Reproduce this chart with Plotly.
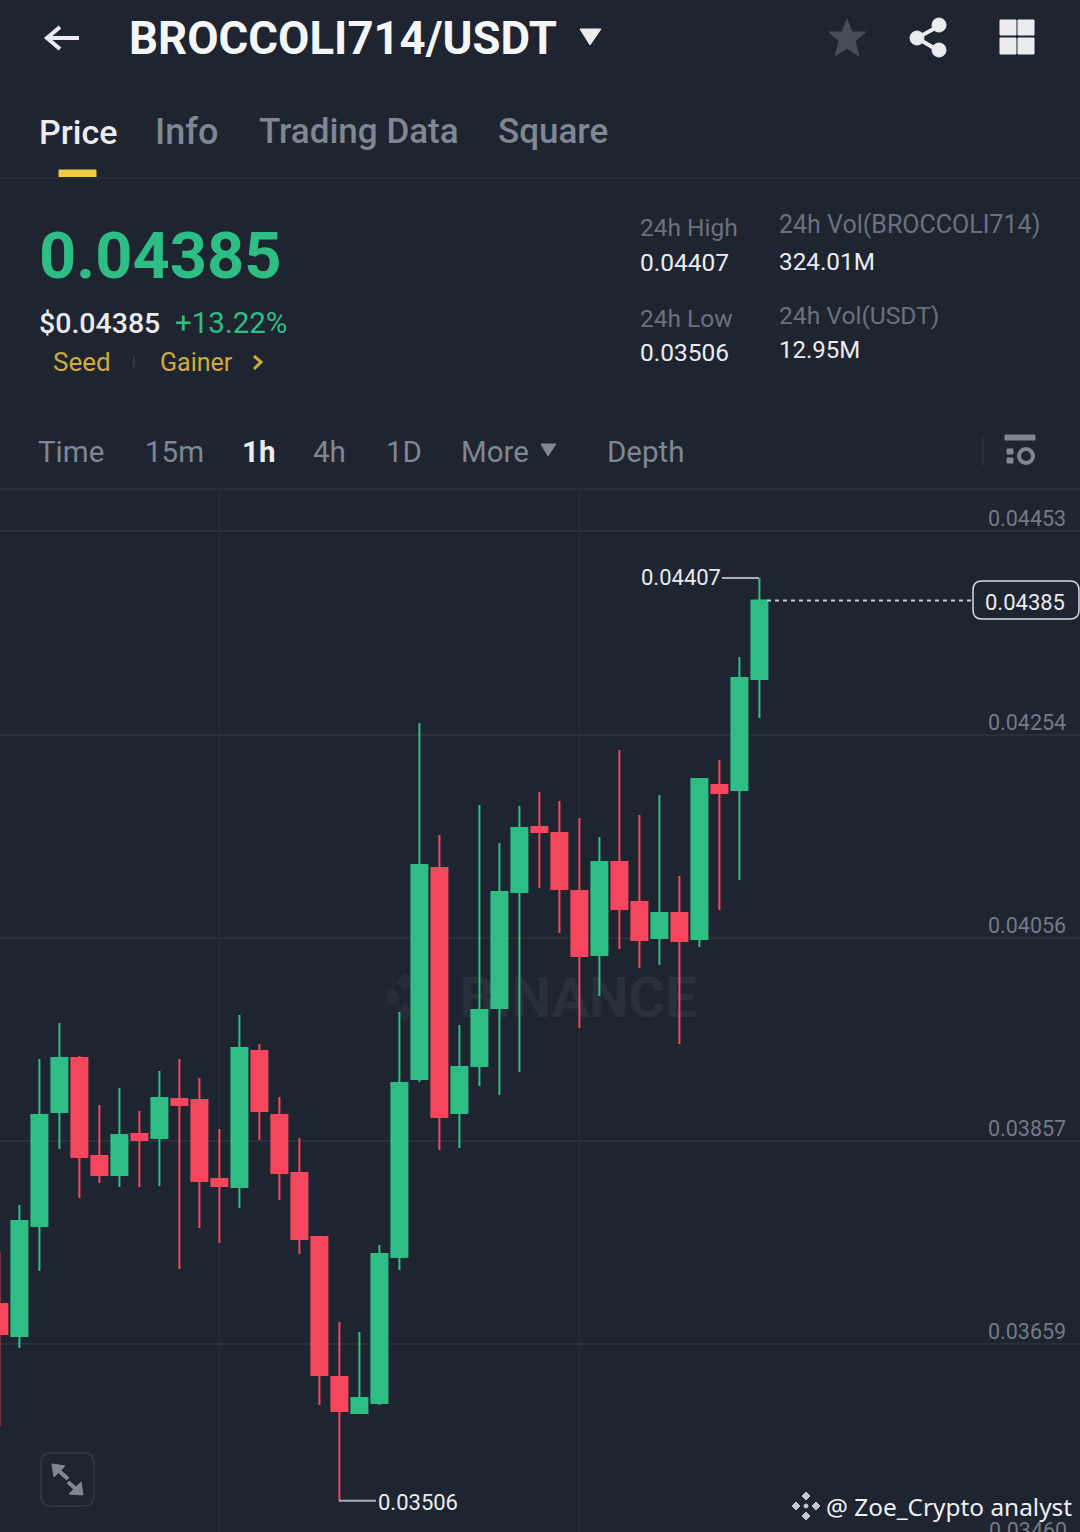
import plotly.graph_objects as go

# ---------- data ----------
opens = [0.036981,0.036669,0.037743,0.038856,0.039384,0.038427,0.038241,0.038641,0.038602,0.038983,0.038973,0.038202,0.038124,0.039452,0.038827,0.038260,0.037635,0.036268,0.035917,0.036014,0.037440,0.039178,0.041239,0.038846,0.039305,0.039872,0.041005,0.041640,0.041581,0.041014,0.040389,0.041298,0.040907,0.040555,0.040800,0.040546,0.042050,0.042001,0.043085]
highs = [0.037489,0.037948,0.039374,0.039725,0.039403,0.038925,0.039091,0.038866,0.039257,0.039374,0.039188,0.038690,0.039804,0.039520,0.039003,0.038602,0.037645,0.036805,0.036708,0.037557,0.039833,0.042655,0.041561,0.039706,0.041854,0.041483,0.041845,0.041981,0.041893,0.041727,0.041542,0.042392,0.041757,0.041952,0.041161,0.042108,0.042294,0.043300,0.044070]
lows = [0.035790,0.036551,0.037303,0.038495,0.038016,0.038163,0.038124,0.038124,0.038134,0.037323,0.037723,0.037577,0.037919,0.038583,0.037997,0.037469,0.035995,0.035060,0.035917,0.035995,0.037313,0.039149,0.038485,0.038505,0.039110,0.039022,0.039247,0.041044,0.040604,0.039677,0.039989,0.040448,0.040263,0.040292,0.039520,0.040468,0.040829,0.041122,0.042704]
closes = [0.036688,0.037792,0.038827,0.039384,0.038417,0.038241,0.038632,0.038583,0.038993,0.038925,0.038182,0.038134,0.039481,0.038866,0.038260,0.037616,0.036288,0.035936,0.036063,0.037469,0.039139,0.041268,0.038807,0.039296,0.039852,0.041005,0.041630,0.041591,0.041034,0.040380,0.041298,0.040839,0.040536,0.040800,0.040526,0.042108,0.041972,0.043095,0.043850]
candle_index = list(range(len(opens)))
tick_vals = [0.04453, 0.04254, 0.04056, 0.03857, 0.03659]
tick_labels = ["0.04453", "0.04254", "0.04056", "0.03857", "0.03659"]
grid_candles = [11, 29]
last_price = 0.04385
high_price = 0.04407
low_price = 0.03506

# ---------- style ----------
W, H = 1080, 1532
BG = "#1e2530"
GREEN = "#2ebd85"
RED = "#f6465d"
WHITE = "#eaecef"
GRAY = "#7f8794"
DIM = "#6a717d"
GOLD = "#cfaa3e"
GRID = "#2a303b"
FONT = "Roboto"


def X(x):
    return x / W


def Y(y):
    return 1 - y / H


def path(*pts, close=True):
    s = "M" + " L".join(f"{X(a):.5f},{Y(b):.5f}" for a, b in pts)
    return s + (" Z" if close else "")


def rrect(x0, y0, x1, y1, r):
    def p(a, b):
        return f"{X(a):.5f},{Y(b):.5f}"
    return (f"M{p(x0+r,y0)} L{p(x1-r,y0)} Q{p(x1,y0)} {p(x1,y0+r)} L{p(x1,y1-r)} Q{p(x1,y1)} {p(x1-r,y1)} "
            f"L{p(x0+r,y1)} Q{p(x0,y1)} {p(x0,y1-r)} L{p(x0,y0+r)} Q{p(x0,y0)} {p(x0+r,y0)} Z")


annots = []
shapes = []


def label(text, x, y, size, color, anchor="left", weight=400, family=FONT):
    annots.append(dict(text=text, x=X(x), y=Y(y), xref="paper", yref="paper", xanchor=anchor, yanchor="middle",
                       showarrow=False, borderpad=0, borderwidth=0,
                       font=dict(family=family, size=size, color=color, weight=weight)))


def filled(d, color, layer="above"):
    shapes.append(dict(type="path", path=d, xref="paper", yref="paper", fillcolor=color,
                       line=dict(color=color, width=1), layer=layer))


def stroked(d, color, width, dash="solid", fill="rgba(0,0,0,0)", layer="above"):
    shapes.append(dict(type="path", path=d, xref="paper", yref="paper", fillcolor=fill,
                       line=dict(color=color, width=width, dash=dash), layer=layer))


def circle(cx, cy, r, color, fill=None, width=1):
    shapes.append(dict(type="circle", xref="paper", yref="paper", x0=X(cx - r), x1=X(cx + r), y0=Y(cy + r), y1=Y(cy - r),
                       fillcolor=fill if fill else color, line=dict(color=color, width=width)))


# header
stroked(path((79, 38), (47, 38), close=False), WHITE, 4)
stroked(path((60, 27), (47, 38), (60, 49), close=False), WHITE, 4)
label("BROCCOLI714/USDT", 129, 39, 45.5, "#f5f6f7", weight=700)
filled(path((580, 29), (601, 29), (590, 45)), WHITE)
filled(path((847, 19), (852, 32), (866, 32), (855, 41), (859, 56), (847, 48), (835, 56), (839, 41), (829, 32), (842, 32)), "#474d57")
stroked(path((939, 26), (917, 38), (939, 51), close=False), WHITE, 4)
circle(939, 25, 7, WHITE)
circle(939, 50, 7, WHITE)
circle(917, 38, 7, WHITE)
for xa, xb in ((1000, 1016), (1018, 1034)):
    for ya, yb in ((20, 35), (38, 54)):
        filled(path((xa, ya), (xb, ya), (xb, yb), (xa, yb)), WHITE)

# tabs
label("Price", 39, 132, 34, WHITE, weight=500)
label("Info", 155, 132, 36, GRAY, weight=500)
label("Trading Data", 259, 132, 35, GRAY, weight=500)
label("Square", 498, 132, 35, GRAY, weight=500)
filled(path((59, 170), (96, 170), (96, 177), (59, 177)), "#f0cb3f")
stroked(path((0, 178), (1080, 178), close=False), "#262c37", 2)

# price block
label("0.04385", 39, 256, 65, GREEN, weight=700)
label("$0.04385", 39, 323, 28.5, WHITE, weight=500)
label("+13.22%", 175, 323, 29.5, GREEN)
label("Seed", 53, 362, 26, GOLD)
label("Gainer", 160, 362, 25, GOLD)
stroked(path((134, 357), (134, 367), close=False), "#3a3f47", 1.5)
stroked(path((254, 356), (261, 362), (254, 369), close=False), GOLD, 3)

label("24h High", 640, 228, 24.5, DIM)
label("0.04407", 640, 262, 24.5, WHITE)
label("24h Low", 640, 318, 24.5, DIM)
label("0.03506", 640, 352, 24.5, WHITE)
label("24h Vol(BROCCOLI714)", 779, 225, 25, DIM)
label("324.01M", 779, 261, 24.3, WHITE)
label("24h Vol(USDT)", 779, 315, 24.6, DIM)
label("12.95M", 779, 350, 24, WHITE)

# interval bar
for txt, x0 in (("Time", 38), ("15m", 145), ("4h", 313), ("1D", 386), ("More", 461), ("Depth", 607)):
    label(txt, x0, 452, 29.5, GRAY)
label("1h", 242, 452, 29.5, WHITE, weight=700)
filled(path((541, 444), (556, 444), (548, 456)), GRAY)
stroked(path((983, 435), (983, 466), close=False), "#2c323d", 1.5)
filled(path((1005, 435), (1035, 435), (1035, 440), (1005, 440)), GRAY)
filled(path((1007, 449), (1013, 449), (1013, 454), (1007, 454)), GRAY)
filled(path((1007, 458), (1013, 458), (1013, 463), (1007, 463)), GRAY)
circle(1026, 456, 7, GRAY, fill=BG, width=4)
stroked(path((0, 489), (1080, 489), close=False), "#272d38", 2)

# watermark behind the candles
filled(path((405, 973), (414, 982), (405, 991), (396, 982)), "#272d38", layer="below")
filled(path((405, 1003), (414, 1012), (405, 1021), (396, 1012)), "#272d38", layer="below")
filled(path((392, 988), (401, 997), (392, 1006), (385, 997)), "#272d38", layer="below")
shapes.append(dict(type="rect", xref="paper", yref="paper", x0=X(458), x1=X(698), y0=Y(1019), y1=Y(969),
                   line=dict(width=0), fillcolor="rgba(0,0,0,0)", layer="below",
                   label=dict(text="BINANCE", textposition="middle center",
                              font=dict(family=FONT, size=56, color="#2a303b", weight=700))))

# last price line and box
shapes.append(dict(type="line", xref="paper", yref="y", x0=X(767), x1=X(973), y0=last_price, y1=last_price,
                   line=dict(color="#c6cad0", width=2, dash="4px,4px")))
stroked(rrect(973, 581, 1079, 619, 9), "#d9dce0", 1.5, fill=BG)
label(f"{last_price:.5f}", 1065, 603, 22, WHITE, anchor="right")

# high / low markers
shapes.append(dict(type="line", xref="paper", yref="y", x0=X(722), x1=X(759), y0=high_price, y1=high_price,
                   line=dict(color="#a9aeb6", width=2)))
shapes.append(dict(type="line", xref="paper", yref="y", x0=X(339), x1=X(376), y0=low_price, y1=low_price,
                   line=dict(color="#a9aeb6", width=2)))
label(f"{high_price:.5f}", 641, 578, 22, WHITE)
label(f"{low_price:.5f}", 378, 1502, 22, WHITE)

# axis labels
for v, t in zip(tick_vals, tick_labels):
    annots.append(dict(text=t, x=X(1066.5), y=v, xref="paper", yref="y", xanchor="right", yanchor="middle", yshift=12.5,
                       showarrow=False, borderpad=0, font=dict(family=FONT, size=21.5, color="#737a86")))
label("0.03460", 1066.5, 1530, 21.5, "#737a86", anchor="right")

# expand button
stroked(rrect(41, 1453, 94, 1506, 10), "#2e343f", 2)
filled(path((52, 1464), (65, 1466), (54, 1477)), GRAY)
filled(path((83, 1495), (69, 1494), (81, 1482)), GRAY)
stroked(path((58, 1470), (68, 1479), close=False), GRAY, 4)
stroked(path((68, 1482), (77, 1490), close=False), GRAY, 4)

# footer
for cx, cy in ((806, 1496), (806, 1516), (796, 1506), (816, 1506)):
    filled(path((cx, cy - 4), (cx + 4, cy), (cx, cy + 4), (cx - 4, cy)), "#c6c9ce")
circle(806, 1506, 2, "#c6c9ce")
label("@ Zoe_Crypto analyst", 826, 1506, 24.4, "#eef0f2", family="Noto Sans")

fig = go.Figure(go.Candlestick(
    x=candle_index, open=opens, high=highs, low=lows, close=closes,
    increasing=dict(line=dict(color=GREEN, width=2), fillcolor=GREEN),
    decreasing=dict(line=dict(color=RED, width=2), fillcolor=RED),
    whiskerwidth=0, hoverinfo="skip", showlegend=False))

fig.update_layout(
    width=W, height=H, margin=dict(l=0, r=0, t=0, b=0), autosize=False,
    paper_bgcolor=BG, plot_bgcolor=BG, boxgap=0.2, boxgroupgap=0, showlegend=False,
    annotations=annots, shapes=shapes, font=dict(family=FONT),
    xaxis=dict(range=[0.03, 54.03], tickvals=grid_candles, showticklabels=False, ticks="",
               showgrid=True, gridcolor=GRID, gridwidth=1.5, zeroline=False, showline=False,
               rangeslider=dict(visible=False), fixedrange=True),
    yaxis=dict(range=[0.034755, 0.044940], domain=[0, (H - 489) / H], tickvals=tick_vals, showticklabels=False,
               ticks="", showgrid=True, gridcolor=GRID, gridwidth=2, zeroline=False, showline=False, fixedrange=True),
)

fig.write_html("out.html", config=dict(displayModeBar=False, staticPlot=True),
               post_script="document.body.style.margin='0';document.documentElement.style.overflow='hidden';")
